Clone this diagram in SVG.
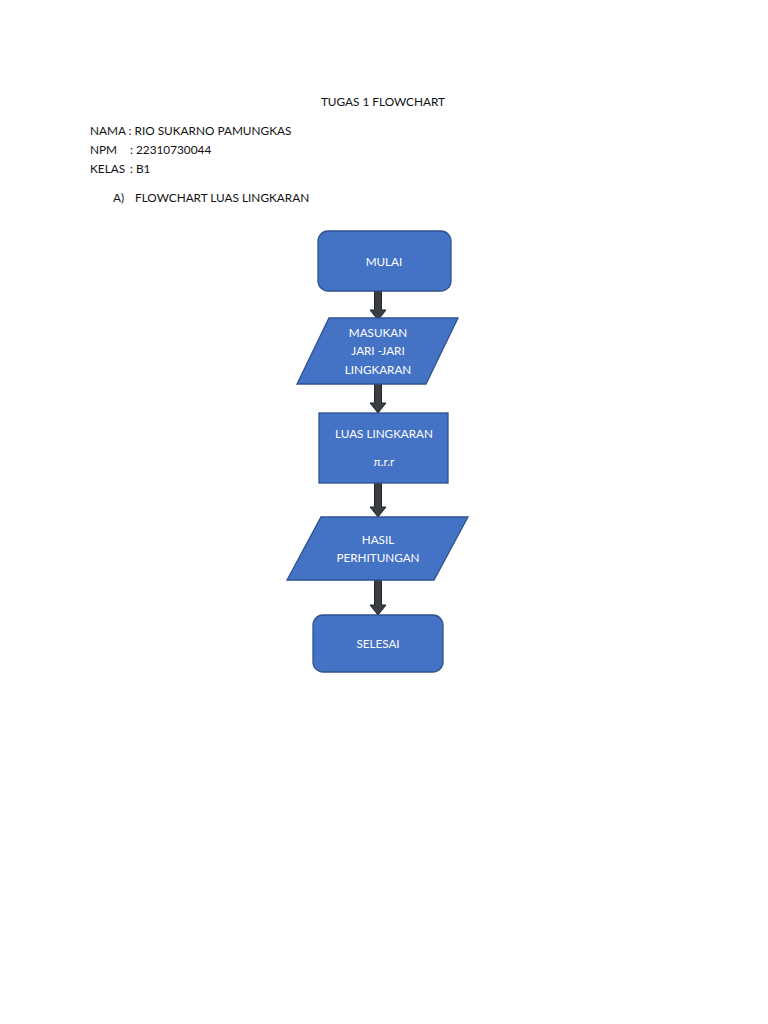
<svg xmlns="http://www.w3.org/2000/svg" width="768" height="1024" viewBox="0 0 768 1024">
<style>
.t{font-family:Lato,"Open Sans","Liberation Sans",sans-serif;font-size:11.8px;fill:#111}
.n{font-family:Lato,"Open Sans","Liberation Sans",sans-serif;font-size:11.7px;fill:#ffffff;text-anchor:middle}
.s{fill:#4472C4;stroke:#2F528F;stroke-width:1.3}
.a{fill:#3a3d44;stroke:#22252b;stroke-width:1}
</style>
<rect width="768" height="1024" fill="#ffffff"/>
<g id="header">
<text class="t" x="383" y="106" text-anchor="middle">TUGAS 1 FLOWCHART</text>
<text class="t" x="90" y="135">NAMA : RIO SUKARNO PAMUNGKAS</text>
<text class="t" x="90" y="154">NPM</text>
<text class="t" x="130" y="154">: 22310730044</text>
<text class="t" x="90" y="173">KELAS</text>
<text class="t" x="130" y="173">: B1</text>
<text class="t" x="113" y="202">A)</text>
<text class="t" x="135" y="202">FLOWCHART LUAS LINGKARAN</text>
</g>
<g id="connectors">
<polygon class="a" points="374.5,291 381.5,291 381.5,310 386,310 378,320 370,310 374.5,310"/>
<polygon class="a" points="374.5,384 381.5,384 381.5,403 386,403 378,413 370,403 374.5,403"/>
<polygon class="a" points="374.5,483 381.5,483 381.5,507 386,507 378,517 370,507 374.5,507"/>
<polygon class="a" points="374.5,580 381.5,580 381.5,605 386,605 378,615 370,605 374.5,605"/>
</g>
<g id="mulai">
<rect class="s" x="318" y="231" width="133" height="60" rx="10"/>
<text class="n" x="384" y="266">MULAI</text>
</g>
<g id="input">
<polygon class="s" points="329,318 458,318 426,384 297,384"/>
<text class="n" x="378" y="337">MASUKAN</text>
<text class="n" x="378" y="355">JARI -JARI</text>
<text class="n" x="378" y="374">LINGKARAN</text>
</g>
<g id="proses">
<rect class="s" x="319" y="413" width="129" height="70"/>
<text class="n" x="384" y="438">LUAS LINGKARAN</text>
<text class="n" x="384" y="466">π.r.r</text>
</g>
<g id="output">
<polygon class="s" points="321,517 468,517 434,580 287,580"/>
<text class="n" x="378" y="544">HASIL</text>
<text class="n" x="378" y="562">PERHITUNGAN</text>
</g>
<g id="selesai">
<rect class="s" x="313" y="615" width="130" height="57" rx="10"/>
<text class="n" x="378" y="648">SELESAI</text>
</g>
</svg>
